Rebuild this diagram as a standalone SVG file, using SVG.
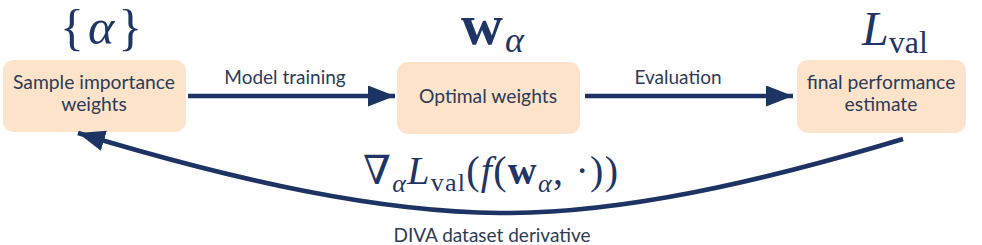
<svg xmlns="http://www.w3.org/2000/svg" width="982" height="245" viewBox="0 0 982 245">
<style>
.box{fill:#fce3ca;}
.lbl{font-family:Lato,"Open Sans",sans-serif;font-size:19.3px;fill:#2c3b57;text-anchor:middle;}
.edge{font-family:Lato,"Open Sans",sans-serif;font-size:19px;fill:#2c3b57;text-anchor:middle;}
.math{font-family:"Liberation Serif","DejaVu Serif",serif;fill:#1f3565;}
.conn{fill:none;stroke:#1c3363;stroke-width:4.5;}
</style>
<defs>
<marker id="ah" markerUnits="userSpaceOnUse" markerWidth="28" markerHeight="22" refX="27" refY="10.5" orient="auto" viewBox="0 0 28 22">
<path d="M0,0 L27,10.5 L0,21 Z" fill="#1c3363"/>
</marker>
</defs>
<rect width="982" height="245" fill="#ffffff"/>
<g id="node-sample">
<rect class="box" x="3" y="60" width="183" height="72" rx="11"/>
<text class="lbl" x="94" y="89">Sample importance</text>
<text class="lbl" x="94" y="111">weights</text>
<text class="math" x="60" y="44" font-size="50">{<tspan font-style="italic" dx="4">α</tspan><tspan dx="4">}</tspan></text>
</g>
<g id="node-optimal">
<rect class="box" x="397" y="62" width="183" height="72" rx="11"/>
<text class="lbl" x="488" y="103">Optimal weights</text>
<text class="math" x="461" y="44" font-size="58" font-weight="bold">w</text>
<text class="math" x="505" y="52" font-size="36" font-style="italic">α</text>
</g>
<g id="node-final">
<rect class="box" x="797" y="60" width="169" height="73" rx="11"/>
<text class="lbl" x="881" y="89">final performance</text>
<text class="lbl" x="881" y="111">estimate</text>
<text class="math" x="862" y="45" font-size="48"><tspan font-style="italic">L</tspan><tspan font-size="32" dy="8">val</tspan></text>
</g>
<g id="connectors">
<line class="conn" x1="188" y1="96" x2="395" y2="96" marker-end="url(#ah)"/>
<line class="conn" x1="585" y1="96" x2="793" y2="96" marker-end="url(#ah)"/>
<path class="conn" d="M903,139 C760,182 620,214 500,213 C380,212 240,182 78,133" marker-end="url(#ah)"/>
<text class="edge" x="285" y="84">Model training</text>
<text class="edge" x="678" y="84">Evaluation</text>
<text class="math" x="363" y="184" font-size="40" textLength="255" lengthAdjust="spacing">∇<tspan font-style="italic" font-size="26" dy="8">α</tspan><tspan font-style="italic" dy="-8">L</tspan><tspan font-size="26" dy="7">val</tspan><tspan dy="-7">(</tspan><tspan font-style="italic">f</tspan>(<tspan font-weight="bold">w</tspan><tspan font-style="italic" font-size="26" dy="8">α</tspan><tspan dy="-8">, ·))</tspan></text>
<text class="edge" x="492" y="242" font-size="16">DIVA dataset derivative</text>
</g>
</svg>
